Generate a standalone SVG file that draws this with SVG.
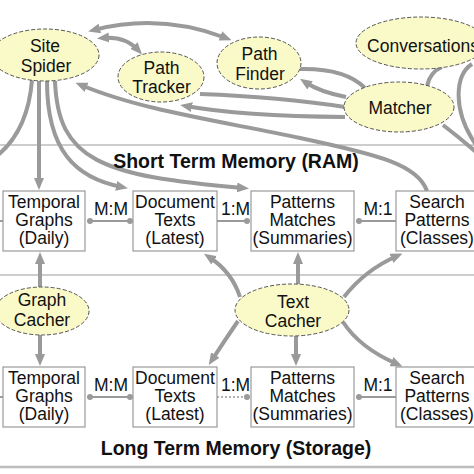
<svg xmlns="http://www.w3.org/2000/svg" width="474" height="474" viewBox="0 0 474 474">
<defs>
<marker id="ah" viewBox="0 0 12 10" refX="6" refY="5" markerWidth="12" markerHeight="10" markerUnits="userSpaceOnUse" orient="auto-start-reverse">
<path d="M0,0 L12,5 L0,10 z" fill="#9a9a9a"/>
</marker>
<style>
.sep{stroke:#bdbdbd;stroke-width:1.5;fill:none}
.c{stroke:#9a9a9a;stroke-width:4;fill:none}
.ca{stroke:#9a9a9a;stroke-width:4;fill:none;marker-end:url(#ah)}
.cb{stroke:#9a9a9a;stroke-width:4;fill:none;marker-start:url(#ah);marker-end:url(#ah)}
.rel{stroke:#9a9a9a;stroke-width:2;fill:none}
.dot{fill:#9a9a9a}
.ell{fill:#fafac8;stroke:#555;stroke-width:1;stroke-dasharray:4 2}
.box{fill:#fff;stroke:#9a9a9a;stroke-width:1.2}
text{font-family:"Liberation Sans",Arial,sans-serif;font-size:17.5px;fill:#111;text-anchor:middle}
.h{font-weight:bold;font-size:19.5px}
</style>
</defs>
<rect width="474" height="474" fill="#fff"/>
<g id="separators">
<line class="sep" x1="0" y1="145" x2="474" y2="145"/>
<line class="sep" x1="0" y1="275" x2="474" y2="275"/>
<line class="sep" x1="0" y1="467" x2="474" y2="467" style="stroke-width:2.5"/>
</g>
<g id="connectors">
<path class="cb" d="M94,30 Q160,13 226,38"/>
<path class="cb" d="M103,38 Q125,36 138,50"/>
<path class="c" d="M300,69 Q345,68 365,88"/>
<path class="ca" d="M346,97 Q320,92 305,82"/>
<path class="c" d="M200,94 Q280,97 345,107"/>
<path class="ca" d="M345,117 Q240,116 186,106"/>
<path class="ca" d="M427,191 C418,165 380,155 300,138 C220,121 140,110 81,85"/>
<path class="c" d="M32,80 Q28,130 -2,155"/>
<path class="ca" d="M39,81 L39,184"/>
<path class="ca" d="M47,81 C47,150 75,178 122,187"/>
<path class="ca" d="M55,81 C58,160 100,176 243,188"/>
<path class="c" d="M443,125 Q460,138 476,152"/>
<path class="c" d="M427,86 Q430,72 442,67"/>
<path class="c" d="M472,64 C455,75 452,110 476,145"/>
<path class="ca" d="M40,287 L40,258"/>
<path class="ca" d="M40,335 L40,360"/>
<path class="ca" d="M240,297 Q232,272 209,257"/>
<path class="ca" d="M298,284 L298,258"/>
<path class="ca" d="M344,297 Q365,270 397,256"/>
<path class="ca" d="M238,321 Q225,340 212,360"/>
<path class="ca" d="M296,336 L296,360"/>
<path class="ca" d="M343,322 Q360,348 397,364"/>
<line class="rel" x1="0" y1="221" x2="3" y2="221"/>
<line class="rel" x1="90" y1="221" x2="130" y2="221"/>
<circle class="dot" cx="90" cy="221" r="3"/><circle class="dot" cx="130" cy="221" r="3"/>
<line class="rel" x1="217" y1="221" x2="247" y2="221"/>
<circle class="dot" cx="247" cy="221" r="3"/>
<line class="rel" x1="359" y1="221" x2="396" y2="221"/>
<circle class="dot" cx="359" cy="221" r="3"/>
<line class="rel" x1="0" y1="397" x2="3" y2="397"/>
<line class="rel" x1="90" y1="397" x2="130" y2="397"/>
<circle class="dot" cx="90" cy="397" r="3"/><circle class="dot" cx="130" cy="397" r="3"/>
<line class="rel" x1="217" y1="397" x2="247" y2="397" style="stroke-dasharray:2 2;stroke-width:1.5"/>
<circle class="dot" cx="247" cy="397" r="3"/>
<line class="rel" x1="359" y1="397" x2="396" y2="397"/>
<circle class="dot" cx="359" cy="397" r="3"/>
</g>
<g id="relation-labels">
<text x="111" y="215">M:M</text>
<text x="235.5" y="215">1:M</text>
<text x="378" y="215">M:1</text>
<text x="111" y="391">M:M</text>
<text x="235.5" y="391">1:M</text>
<text x="378" y="391">M:1</text>
</g>
<g id="site-spider"><ellipse class="ell" cx="45" cy="55" rx="54" ry="26"/><text x="45" y="52">Site</text><text x="46" y="72">Spider</text></g>
<g id="path-tracker"><ellipse class="ell" cx="161" cy="77" rx="43" ry="25"/><text x="161.5" y="74">Path</text><text x="161.5" y="93">Tracker</text></g>
<g id="path-finder"><ellipse class="ell" cx="259" cy="63" rx="42" ry="26"/><text x="259.5" y="60">Path</text><text x="260" y="80">Finder</text></g>
<g id="conversations"><ellipse class="ell" cx="421" cy="43" rx="65" ry="26"/><text x="423" y="52">Conversations</text></g>
<g id="matcher"><ellipse class="ell" cx="399" cy="107" rx="55" ry="25"/><text x="400" y="114">Matcher</text></g>
<g id="graph-cacher"><ellipse class="ell" cx="42" cy="311" rx="47" ry="24"/><text x="42" y="306">Graph</text><text x="42" y="326">Cacher</text></g>
<g id="text-cacher"><ellipse class="ell" cx="292" cy="310" rx="57" ry="26"/><text x="293" y="308">Text</text><text x="293" y="327">Cacher</text></g>
<g id="heading-short"><text class="h" x="236" y="168">Short Term Memory (RAM)</text></g>
<g id="st-temporal"><rect class="box" x="3" y="191" width="82" height="60"/><text x="44" y="208">Temporal</text><text x="44" y="226">Graphs</text><text x="44" y="244">(Daily)</text></g>
<g id="st-document"><rect class="box" x="133" y="191" width="84" height="60"/><text x="175" y="208">Document</text><text x="175" y="226">Texts</text><text x="175" y="244">(Latest)</text></g>
<g id="st-patterns"><rect class="box" x="251" y="191" width="103" height="60"/><text x="302.5" y="208">Patterns</text><text x="302.5" y="226">Matches</text><text x="302.5" y="244">(Summaries)</text></g>
<g id="st-search"><rect class="box" x="396" y="191" width="82" height="60"/><text x="437" y="208">Search</text><text x="437" y="226">Patterns</text><text x="437" y="244">(Classes)</text></g>
<g id="lt-temporal"><rect class="box" x="3" y="367" width="82" height="60"/><text x="44" y="384">Temporal</text><text x="44" y="402">Graphs</text><text x="44" y="420">(Daily)</text></g>
<g id="lt-document"><rect class="box" x="133" y="367" width="84" height="60"/><text x="175" y="384">Document</text><text x="175" y="402">Texts</text><text x="175" y="420">(Latest)</text></g>
<g id="lt-patterns"><rect class="box" x="251" y="367" width="103" height="60"/><text x="302.5" y="384">Patterns</text><text x="302.5" y="402">Matches</text><text x="302.5" y="420">(Summaries)</text></g>
<g id="lt-search"><rect class="box" x="396" y="367" width="82" height="60"/><text x="437" y="384">Search</text><text x="437" y="402">Patterns</text><text x="437" y="420">(Classes)</text></g>
<g id="heading-long"><text class="h" x="236" y="455">Long Term Memory (Storage)</text></g>
</svg>
